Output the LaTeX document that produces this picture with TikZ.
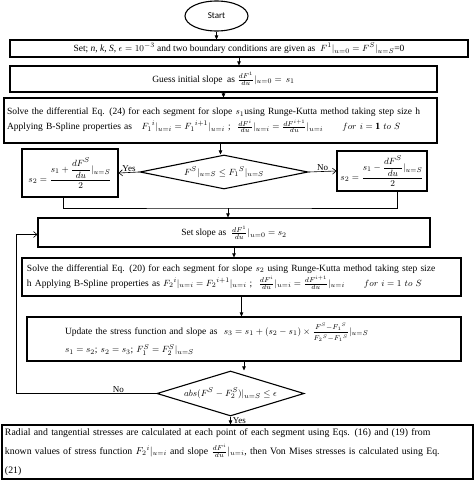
\documentclass[tikz,border=0pt]{standalone}
\usepackage{amsmath}
\usepackage{fontspec}
\setmainfont{Liberation Serif}
\newfontfamily\startfont{Carlito}
\usepackage{tikz}
\usetikzlibrary{calc,arrows.meta,shapes.geometric}

\begin{document}
\begin{tikzpicture}[
  x=1pt, y=-1pt,
  font=\fontsize{9.5}{11.5}\selectfont,
  every node/.style={align=center},
  block/.style={rectangle, draw=black, line width=1.1pt, inner sep=2pt, fill=white},
  term/.style={ellipse, draw=black, line width=1.1pt, inner sep=0pt, font=\startfont\small},
  dec/.style={diamond, draw=black, line width=1.1pt, inner sep=0pt, aspect=5},
  arrow/.style={-{Triangle[length=4pt,width=3.5pt]}, line width=0.6pt},
  barb/.style={-{Straight Barb[length=3.5pt,width=6pt]}, line width=0.6pt},
  lbl/.style={font=\fontsize{9}{10}\selectfont, inner sep=1pt}
]
  \useasboundingbox[fill=white] (0,0) rectangle (474,482);

  \node[term, minimum width=63, minimum height=30] (start) at (216.5,16) {Start};
  \node[block, minimum width=458, minimum height=17] (set) at (239,48.5)
    {Set; \textit{n}, \textit{k}, \textit{S}, $\epsilon=10^{-3}$ and two boundary conditions are given as \ $F^1|_{u=0}=F^S|_{u=S}$=0};
  \node[block, minimum width=427, minimum height=26] (guess) at (223.5,79)
    {Guess initial slope \ as $\frac{dF^1}{du}|_{u=0}=\,s_1$};
  \node[block, text width=427, inner xsep=3pt, minimum height=45, align=left] (solveA) at (220.5,120.5)
    {Solve the differential Eq. (24) for each segment for slope $s_1$using Runge-Kutta method taking step size h\\[2pt]
     Applying B-Spline properties as \ \ $F_1{}^i|_{u=i}=F_1{}^{i+1}|_{u=i}$ ; \ $\frac{dF^i}{du}|_{u=i}=\frac{dF^{i+1}}{du}|_{u=i}$ \quad\ \ $for\ i=\mathbf{1}\ to\ S$};

  \node[dec, minimum width=168, minimum height=34] (dec1) at (224,172)
    {$F^S|_{u=S}\le {F_1}^S|_{u=S}$};
  \node[block, minimum width=96, minimum height=48] (left) at (70,173)
    {$s_2=\dfrac{s_1+\dfrac{dF^S}{du}|_{u=S}}{2}$};
  \node[block, minimum width=90, minimum height=40] (right) at (382,171)
    {$s_2=\dfrac{s_1-\dfrac{dF^S}{du}|_{u=S}}{2}$};
  \coordinate (merge) at (228,208);

  \node[block, minimum width=392, minimum height=29] (slope) at (234,232.5)
    {Set slope as \ $\frac{dF^1}{du}|_{u=0}=s_2$};
  \node[block, text width=429, inner xsep=5pt, minimum height=38, align=left] (solveB) at (241.5,277)
    {Solve the differential Eq. (20) for each segment for slope $s_2$ using Runge-Kutta method taking step size\\[2pt]
     h Applying B-Spline properties as $F_2{}^i|_{u=i}=F_2{}^{i+1}|_{u=i}$ ; \ $\frac{dF^i}{du}|_{u=i}=\frac{dF^{i+1}}{du}|_{u=i}$ \quad\ \ $for\ i=1\ to\ S$};
  \node[block, text width=358, inner xsep=38pt, minimum height=44, align=left] (update) at (244,339)
    {Update the stress function and slope as \ $s_3=s_1+(s_2-s_1)\times\frac{F^S-{F_1}^S\rule[-2pt]{0pt}{0pt}}{\rule{0pt}{8pt}{F_2}^S-{F_1}^S}|_{u=S}$\\[2pt]
     $s_1=s_2$; $s_2=s_3$; $F_1^S=F_2^S|_{u=S}$};
  \node[dec, minimum width=127, minimum height=45] (dec2) at (230.5,393.5)
    {$abs(F^S-F_2^S)|_{u=S}\le\epsilon$};
  \coordinate (loop) at (16,393.5);

  \node[block, text width=465, inner xsep=3pt, minimum height=54, align=left,
        font=\fontsize{9.8}{19}\selectfont] (final) at (237.5,452)
    {Radial and tangential stresses are calculated at each point of each segment using Eqs. (16) and (19) from\\
     known values of stress function $F_2{}^i|_{u=i}$ and slope $\frac{dF^i}{du}|_{u=i}$, then Von Mises stresses is calculated using Eq.\\
     (21)};

  % straight flow
  \foreach \a/\b in {start/set, set/guess, guess/solveA, solveA/dec1, slope/solveB, solveB/update, update/dec2} {
    \draw[arrow] (\a.south) -- (\a.south |- \b.north);
  }
  \draw[arrow] (dec2.south) -- (dec2.south |- final.north) node[lbl, midway, right=1pt] {Yes};

  % first decision
  \draw[barb] (dec1.west) -- (left.east) node[lbl, midway, above] {Yes};
  \draw[barb] (dec1.east) -- (right.west) node[lbl, midway, above] {No};
  \draw[line width=0.6pt] ([xshift=-7pt]left.south) |- (merge) -| ([xshift=15pt]right.south);
  \draw[arrow] (merge) -- (merge |- slope.north);

  % loop back
  \draw[barb] (dec2.west) -- node[lbl, pos=0.27, above] {No} (loop) |- ([yshift=-2pt]slope.west);
\end{tikzpicture}
\end{document}
